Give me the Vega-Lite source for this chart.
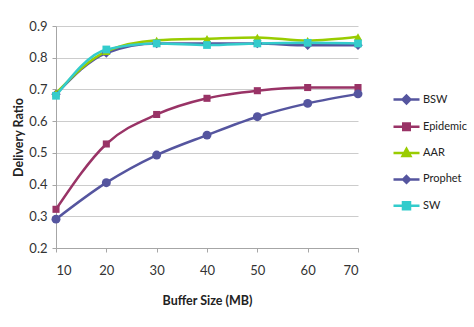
{
  "$schema": "https://vega.github.io/schema/vega-lite/v6.json",
  "width": 302,
  "height": 222,
  "autosize": {"type": "none"},
  "padding": {"left": 56, "top": 26, "right": 116, "bottom": 79},
  "background": "white",
  "config": {
    "font": "Lato",
    "view": {"stroke": null},
    "axis": {
      "labelFont": "Lato",
      "labelFontSize": 13,
      "labelColor": "#333333",
      "titleFont": "Lato",
      "titleFontSize": 12.5,
      "titleFontWeight": "bold",
      "titleColor": "#222222",
      "domainColor": "#a6a6a6",
      "tickColor": "#a6a6a6",
      "gridColor": "#cccccc",
      "tickSize": 4
    }
  },
  "data": {
    "values": [
      {"series": "BSW", "buffer": 10, "ratio": 0.685},
      {"series": "BSW", "buffer": 20, "ratio": 0.815},
      {"series": "BSW", "buffer": 30, "ratio": 0.845},
      {"series": "BSW", "buffer": 40, "ratio": 0.845},
      {"series": "BSW", "buffer": 50, "ratio": 0.845},
      {"series": "BSW", "buffer": 60, "ratio": 0.839},
      {"series": "BSW", "buffer": 70, "ratio": 0.839},
      {"series": "Epidemic", "buffer": 10, "ratio": 0.322},
      {"series": "Epidemic", "buffer": 20, "ratio": 0.528},
      {"series": "Epidemic", "buffer": 30, "ratio": 0.621},
      {"series": "Epidemic", "buffer": 40, "ratio": 0.672},
      {"series": "Epidemic", "buffer": 50, "ratio": 0.696},
      {"series": "Epidemic", "buffer": 60, "ratio": 0.706},
      {"series": "Epidemic", "buffer": 70, "ratio": 0.706},
      {"series": "AAR", "buffer": 10, "ratio": 0.688},
      {"series": "AAR", "buffer": 20, "ratio": 0.82},
      {"series": "AAR", "buffer": 30, "ratio": 0.855},
      {"series": "AAR", "buffer": 40, "ratio": 0.86},
      {"series": "AAR", "buffer": 50, "ratio": 0.864},
      {"series": "AAR", "buffer": 60, "ratio": 0.854},
      {"series": "AAR", "buffer": 70, "ratio": 0.866},
      {"series": "Prophet", "buffer": 10, "ratio": 0.291},
      {"series": "Prophet", "buffer": 20, "ratio": 0.406},
      {"series": "Prophet", "buffer": 30, "ratio": 0.493},
      {"series": "Prophet", "buffer": 40, "ratio": 0.556},
      {"series": "Prophet", "buffer": 50, "ratio": 0.614},
      {"series": "Prophet", "buffer": 60, "ratio": 0.656},
      {"series": "Prophet", "buffer": 70, "ratio": 0.686},
      {"series": "SW", "buffer": 10, "ratio": 0.68},
      {"series": "SW", "buffer": 20, "ratio": 0.826},
      {"series": "SW", "buffer": 30, "ratio": 0.845},
      {"series": "SW", "buffer": 40, "ratio": 0.84},
      {"series": "SW", "buffer": 50, "ratio": 0.845},
      {"series": "SW", "buffer": 60, "ratio": 0.847},
      {"series": "SW", "buffer": 70, "ratio": 0.845}
    ]
  },
  "encoding": {
    "x": {
      "field": "buffer", "type": "quantitative",
      "scale": {"domain": [10, 70], "nice": false, "zero": false},
      "axis": {"values": [10, 20, 30, 40, 50, 60, 70], "grid": false, "title": "Buffer Size (MB)", "labelPadding": 12, "titlePadding": 17}
    },
    "y": {
      "field": "ratio", "type": "quantitative",
      "scale": {"domain": [0.2, 0.9], "nice": false, "zero": false},
      "axis": {"values": [0.2, 0.3, 0.4, 0.5, 0.6, 0.7, 0.8, 0.9], "format": ".1f", "title": "Delivery Ratio", "labelPadding": 5, "titlePadding": 3}
    },
    "color": {
      "field": "series", "type": "nominal",
      "scale": {"domain": ["BSW", "Epidemic", "AAR", "Prophet", "SW"], "range": ["#55559f", "#993366", "#99cc00", "#55559f", "#33cccc"]}
    }
  },
  "layer": [
    {
      "mark": {"type": "line", "interpolate": "monotone", "strokeWidth": 2.5},
      "encoding": {
        "order": {"field": "buffer", "type": "quantitative"},
        "color": {
          "field": "series", "type": "nominal",
          "scale": {"domain": ["BSW", "Epidemic", "AAR", "Prophet", "SW"], "range": ["#55559f", "#993366", "#99cc00", "#55559f", "#33cccc"]},
          "legend": {
            "title": null,
            "orient": "none",
            "legendX": 336,
            "legendY": 59,
            "padding": 0,
            "symbolSize": 676,
            "symbolStrokeWidth": 2.5,
            "labelFont": "Lato",
            "labelFontSize": 11,
            "labelColor": "#222222",
            "labelOffset": 2,
            "rowPadding": 3.3,
            "encode": {
              "symbols": {
                "update": {
                  "shape": {"signal": "datum.value === 'BSW' ? 'M-1,0H1M0,-0.3L0.3,0L0,0.3L-0.3,0Z' : datum.value === 'Epidemic' ? 'M-1,0H1M-0.25,-0.25H0.25V0.25H-0.25Z' : datum.value === 'AAR' ? 'M-1,0H1M0,-0.32L0.3,0.22H-0.3Z' : datum.value === 'Prophet' ? 'M-1,0H1M0,-0.26L0.26,0L0,0.26L-0.26,0Z' : 'M-1,0H1M-0.27,-0.27H0.27V0.27H-0.27Z'"},
                  "fill": {"scale": "color", "field": "value"},
                  "stroke": {"scale": "color", "field": "value"},
                  "strokeWidth": {"value": 2.5},
                  "opacity": {"value": 1}
                }
              }
            }
          }
        }
      }
    },
    {
      "transform": [{"filter": "datum.series === 'BSW'"}],
      "mark": {"type": "point", "filled": true, "opacity": 1, "shape": "diamond", "size": 90},
      "encoding": {"color": {"field": "series", "type": "nominal", "legend": null}}
    },
    {
      "transform": [{"filter": "datum.series === 'Epidemic'"}],
      "mark": {"type": "point", "filled": true, "opacity": 1, "shape": "square", "size": 50},
      "encoding": {"color": {"field": "series", "type": "nominal", "legend": null}}
    },
    {
      "transform": [{"filter": "datum.series === 'AAR'"}],
      "mark": {"type": "point", "filled": true, "opacity": 1, "shape": "triangle-up", "size": 70},
      "encoding": {"color": {"field": "series", "type": "nominal", "legend": null}}
    },
    {
      "transform": [{"filter": "datum.series === 'Prophet'"}],
      "mark": {"type": "point", "filled": true, "opacity": 1, "shape": "circle", "size": 80},
      "encoding": {"color": {"field": "series", "type": "nominal", "legend": null}}
    },
    {
      "transform": [{"filter": "datum.series === 'SW'"}],
      "mark": {"type": "point", "filled": true, "opacity": 1, "shape": "square", "size": 60},
      "encoding": {"color": {"field": "series", "type": "nominal", "legend": null}}
    }
  ]
}
